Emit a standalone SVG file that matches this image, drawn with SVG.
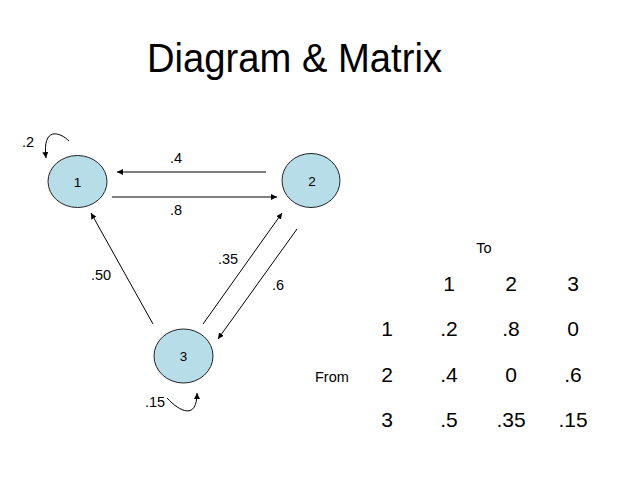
<svg xmlns="http://www.w3.org/2000/svg" width="638" height="479" viewBox="0 0 638 479">
<defs>
<marker id="ah" viewBox="0 0 10 10" refX="10" refY="5" markerWidth="6" markerHeight="6" markerUnits="userSpaceOnUse" orient="auto">
<path d="M0,0 L10,5 L0,10 Z" fill="#000"/>
</marker>
<style>
.node{fill:#b7dde8;stroke:#222;stroke-width:1}
.lbl{font-family:"Liberation Sans",Arial,sans-serif;font-size:14.5px;fill:#000}
.nl{font-family:"Liberation Sans",Arial,sans-serif;font-size:13.5px;fill:#000;text-anchor:middle}
.mx{font-family:"Liberation Sans",Arial,sans-serif;font-size:21px;fill:#000;text-anchor:middle}
.edge{stroke:#000;stroke-width:1;fill:none;marker-end:url(#ah)}
</style>
</defs>
<rect width="638" height="479" fill="#fff"/>
<text x="147" y="72" font-family="'Liberation Sans',Arial,sans-serif" font-size="41" textLength="295" lengthAdjust="spacingAndGlyphs">Diagram &amp; Matrix</text>
<g id="connectors">
<line class="edge" x1="266" y1="172" x2="117" y2="172"/>
<line class="edge" x1="112" y1="197" x2="277" y2="197"/>
<line class="edge" x1="153" y1="324" x2="91" y2="213"/>
<line class="edge" x1="203" y1="324" x2="282" y2="213"/>
<line class="edge" x1="297" y1="229" x2="218" y2="339"/>
<path class="edge" d="M69,141 C60,132 42,126 46,158"/>
<path class="edge" d="M167,398 C180,412 197,420 197,393"/>
<text class="lbl" x="22" y="147">.2</text>
<text class="lbl" x="170" y="163">.4</text>
<text class="lbl" x="170" y="215">.8</text>
<text class="lbl" x="91" y="280">.50</text>
<text class="lbl" x="218" y="264">.35</text>
<text class="lbl" x="272" y="290">.6</text>
<text class="lbl" x="145" y="407">.15</text>
</g>
<g id="node1"><ellipse class="node" cx="77.5" cy="181.5" rx="29.5" ry="26"/><text class="nl" x="77.5" y="186.5">1</text></g>
<g id="node2"><ellipse class="node" cx="311" cy="180.5" rx="29" ry="27"/><text class="nl" x="312" y="185.5">2</text></g>
<g id="node3"><ellipse class="node" cx="183.5" cy="356" rx="29.5" ry="27"/><text class="nl" x="183.5" y="361">3</text></g>
<g id="matrix">
<text class="lbl" x="484" y="253" text-anchor="middle">To</text>
<text class="lbl" x="315" y="382">From</text>
<text class="mx" x="449" y="291">1</text>
<text class="mx" x="511" y="291">2</text>
<text class="mx" x="573" y="291">3</text>
<text class="mx" x="387" y="336">1</text>
<text class="mx" x="387" y="382">2</text>
<text class="mx" x="387" y="427">3</text>
<text class="mx" x="449" y="336">.2</text>
<text class="mx" x="511" y="336">.8</text>
<text class="mx" x="573" y="336">0</text>
<text class="mx" x="449" y="382">.4</text>
<text class="mx" x="511" y="382">0</text>
<text class="mx" x="573" y="382">.6</text>
<text class="mx" x="449" y="427">.5</text>
<text class="mx" x="511" y="427">.35</text>
<text class="mx" x="573" y="427">.15</text>
</g>
</svg>
